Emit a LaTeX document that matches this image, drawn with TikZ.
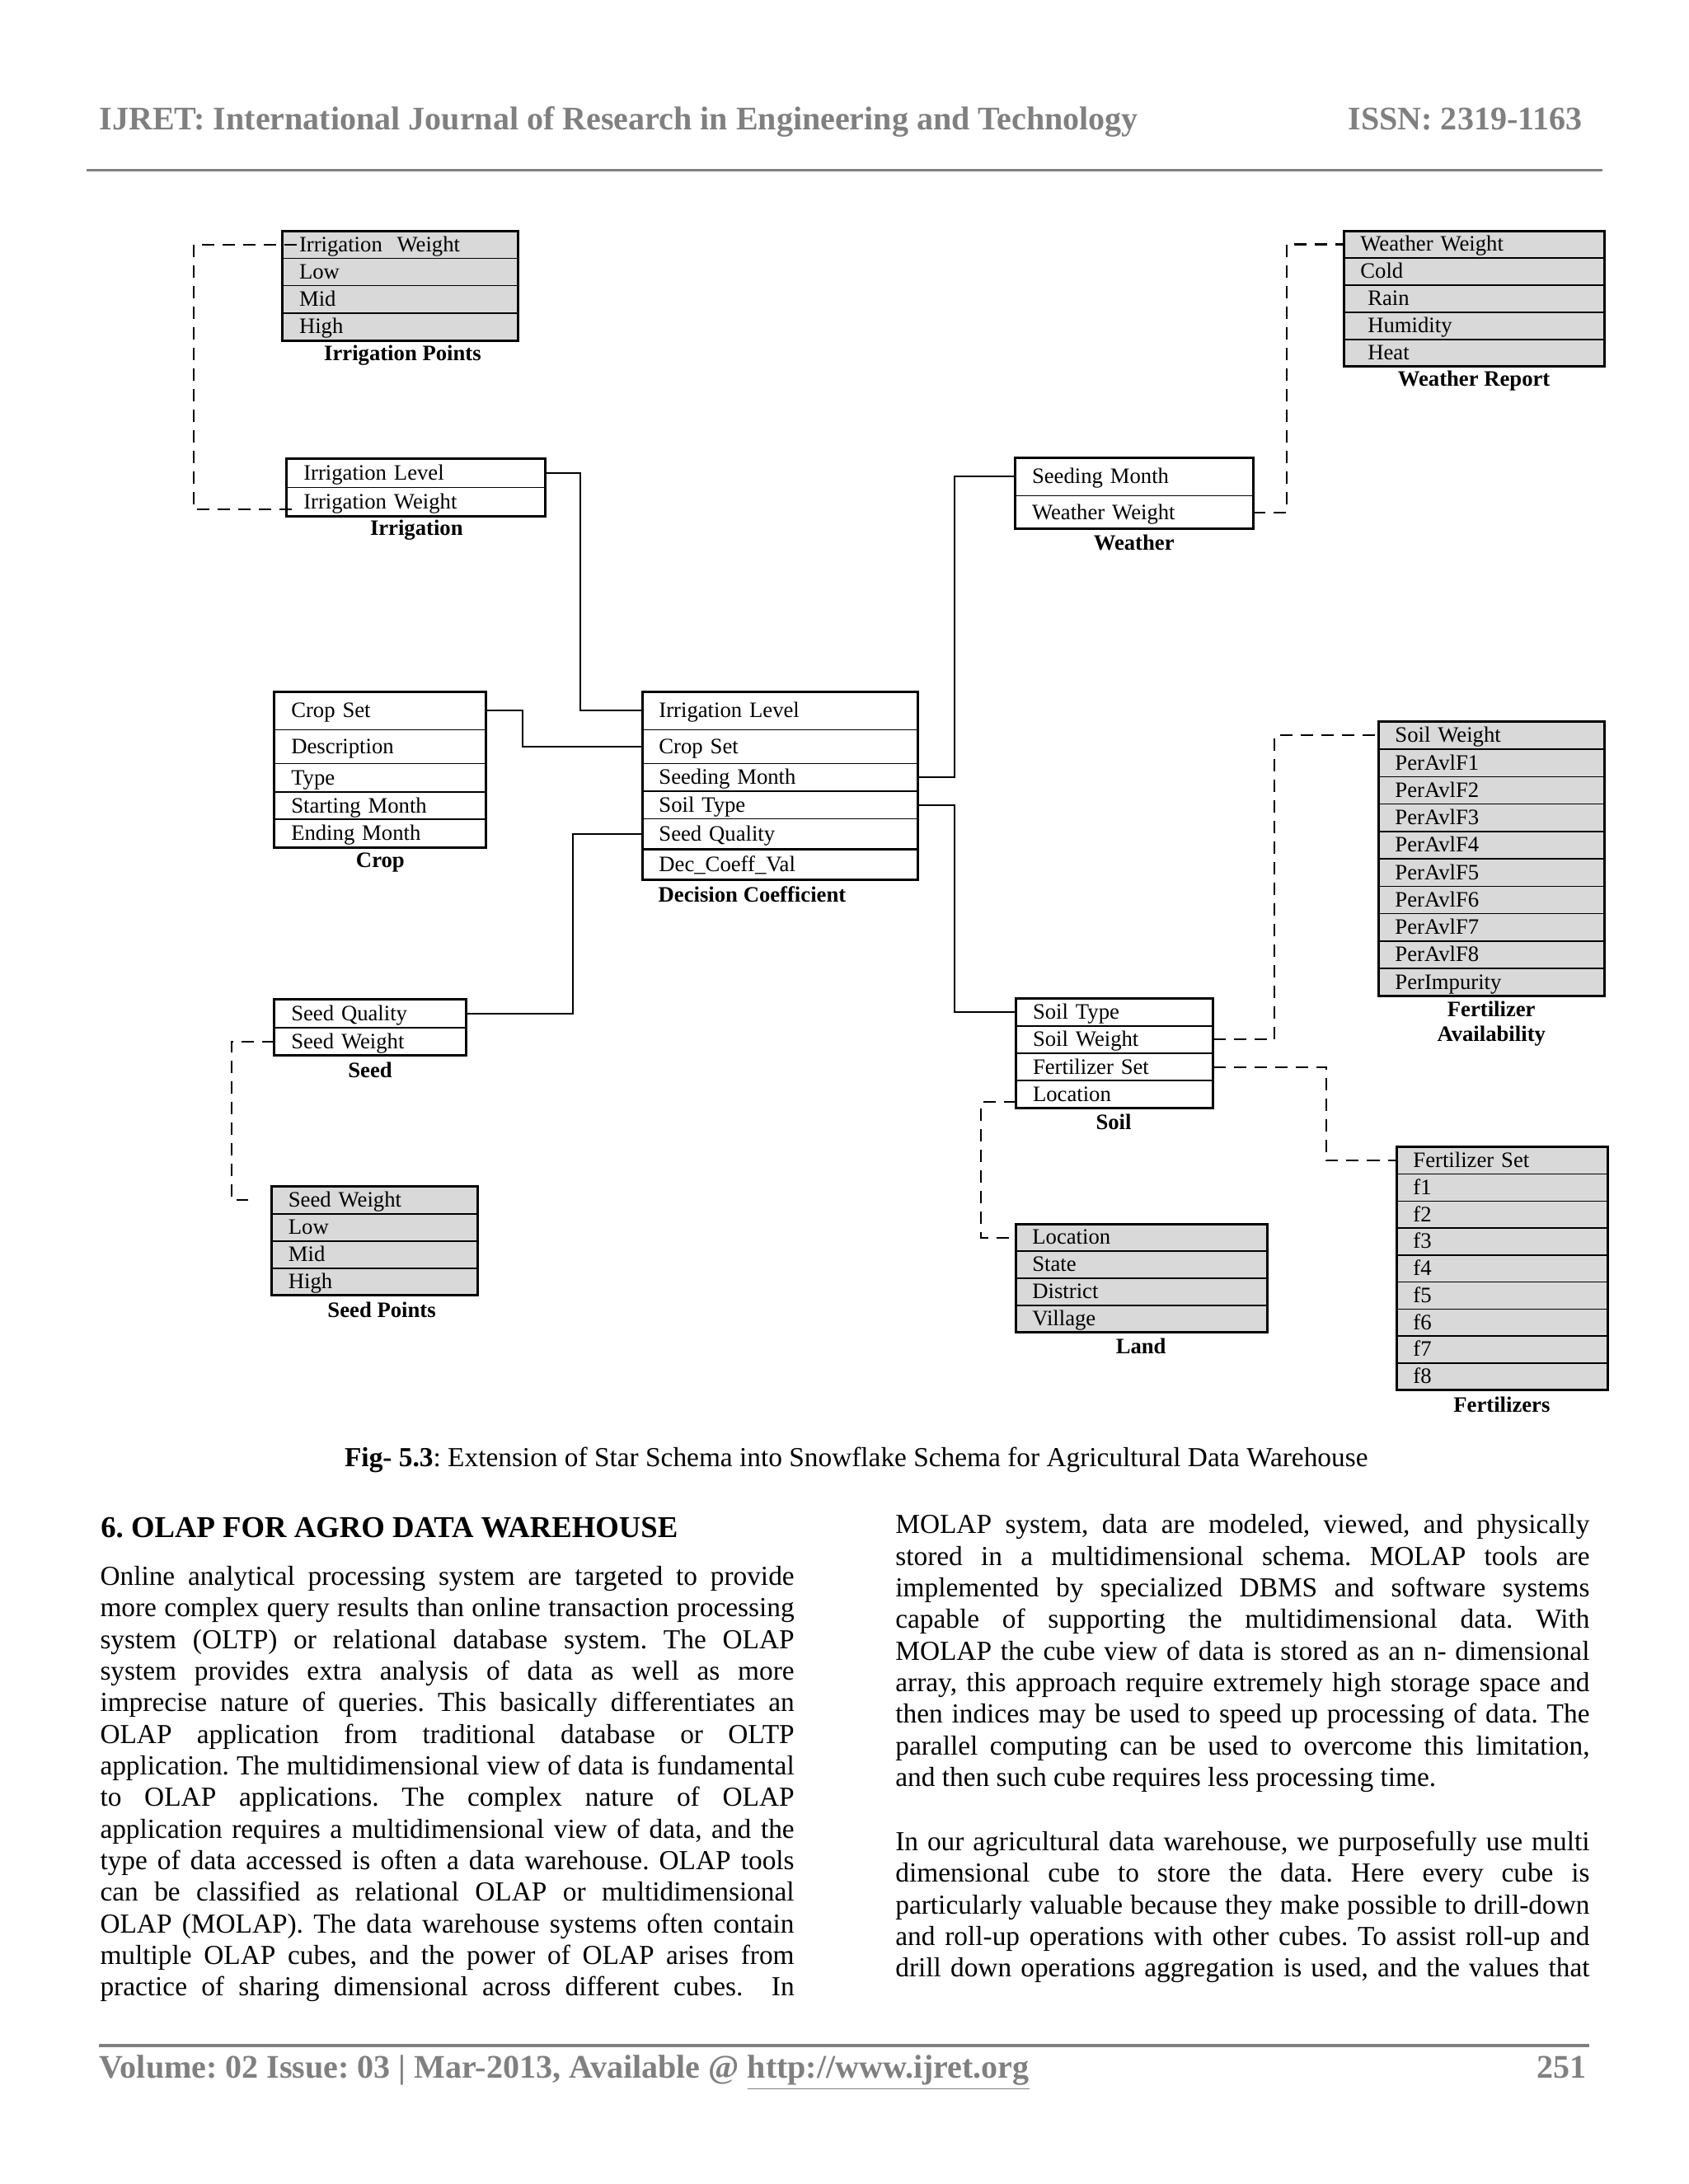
\documentclass[tikz,border=0pt]{standalone}
\usepackage{fontspec}
\setmainfont{Liberation Serif}
\usetikzlibrary{positioning}
\definecolor{cellgray}{RGB}{217,217,217}
\definecolor{headgray}{RGB}{128,128,128}
\frenchspacing
\tikzset{
  cell/.style={draw, line width=0.45pt, inner xsep=0.214cm, inner ysep=0pt, outer sep=0pt,
    text width=#1, anchor=north west, font=\fontsize{8}{9}\selectfont,
    text height=1.5ex, text depth=0.4ex},
  gcell/.style={cell=#1, fill=cellgray},
  frame/.style={line width=0.9pt},
  tlabel/.style={font=\bfseries\fontsize{8}{9}\selectfont, inner sep=0pt},
  link/.style={line width=0.55pt},
  weight link/.style={line width=0.6pt, dash pattern=on 4.5pt off 3pt},
  body/.style={font=\fontsize{10}{11.5}\selectfont, text width=8.873cm, inner sep=0pt,
    anchor=base west, align=justify},
  pagehead/.style={font=\bfseries\fontsize{12}{14}\selectfont, text=headgray, inner sep=0pt},
  rule/.style={headgray, line width=1pt}
}
\begin{document}
\begin{tikzpicture}[x=0.017813cm, y=-0.017813cm]
\useasboundingbox (0,0) rectangle (1212,1568);
% page head
\node[pagehead, anchor=base west] (journal) at (71,93) {IJRET: International Journal of Research in Engineering and Technology};
\node[pagehead, anchor=base east] (issn) at (1136,93) {ISSN: 2319-1163};
\draw[rule] (62,122) -- (1150,122);
% irrigation points
\foreach \t [count=\i] in {Irrigation\ \ Weight, Low, Mid, High}
  \node[gcell=2.579cm, minimum height=0.351cm] (ip\i) at (202.8,{165.7+19.7*(\i-1)}) {\t};
\draw[frame] (ip1.north west) rectangle (ip4.south east);
\node[tlabel] (iplabel) at (289,255) {Irrigation Points};
% irrigation
\foreach \t [count=\i] in {Irrigation Level, Irrigation Weight}
  \node[cell=2.871cm, minimum height=0.369cm] (irr\i) at (205.9,{329.4+20.7*(\i-1)}) {\t};
\draw[frame] (irr1.north west) rectangle (irr2.south east);
\node[tlabel] (irrlabel) at (299,380.5) {Irrigation};
% weather report
\foreach \t [count=\i] in {Weather Weight, Cold, \ Rain, \ Humidity, \ Heat}
  \node[gcell=2.905cm, minimum height=0.347cm] (wr\i) at (964.5,{165.7+19.5*(\i-1)}) {\t};
\draw[frame] (wr1.north west) rectangle (wr5.south east);
\node[tlabel] (wrlabel) at (1058,273.2) {Weather Report};
% weather
\node[cell=2.611cm, minimum height=0.492cm] (wea1) at (728.8,328.4) {Seeding Month};
\node[cell=2.611cm, minimum height=0.422cm, below=0pt of wea1] (wea2) {Weather Weight};
\draw[frame] (wea1.north west) rectangle (wea2.south east);
\node[tlabel] (wealabel) at (814,389.4) {Weather};
% crop
\node[cell=2.278cm, minimum height=0.488cm] (crop1) at (197,496.5) {Crop Set};
\node[cell=2.278cm, minimum height=0.435cm, below=0pt of crop1] (crop2) {Description};
\node[cell=2.278cm, minimum height=0.363cm, below=0pt of crop2] (crop3) {Type};
\node[cell=2.278cm, minimum height=0.347cm, below=0pt of crop3] (crop4) {Starting Month};
\node[cell=2.278cm, minimum height=0.358cm, below=0pt of crop4] (crop5) {Ending Month};
\draw[frame] (crop1.north west) rectangle (crop5.south east);
\node[tlabel] (croplabel) at (273,619.3) {Crop};
% decision coefficient
\node[cell=3.099cm, minimum height=0.488cm] (dc1) at (461,496.5) {Irrigation Level};
\node[cell=3.099cm, minimum height=0.435cm, below=0pt of dc1] (dc2) {Crop Set};
\node[cell=3.099cm, minimum height=0.351cm, below=0pt of dc2] (dc3) {Seeding Month};
\node[cell=3.099cm, minimum height=0.353cm, below=0pt of dc3] (dc4) {Soil Type};
\node[cell=3.099cm, minimum height=0.387cm, below=0pt of dc4] (dc5) {Seed Quality};
\node[cell=3.099cm, minimum height=0.392cm, below=0pt of dc5] (dc6) {Dec\_Coeff\_Val};
\draw[frame] (dc1.north west) rectangle (dc6.south east);
\draw[frame] (dc6.north west) -- (dc6.north east);
\node[tlabel, anchor=west] (dclabel) at (472.2,642.4) {Decision Coefficient};
% seed
\foreach \t [count=\i] in {Seed Quality, Seed Weight}
  \node[cell=2.018cm, minimum height=0.358cm] (seed\i) at (197,{717.6+20.1*(\i-1)}) {\t};
\draw[frame] (seed1.north west) rectangle (seed2.south east);
\node[tlabel] (seedlabel) at (265.7,768) {Seed};
% seed points
\foreach \t [count=\i] in {Seed Weight, Low, Mid, High}
  \node[gcell=2.201cm, minimum height=0.347cm] (sp\i) at (195,{852+19.5*(\i-1)}) {\t};
\draw[frame] (sp1.north west) rectangle (sp4.south east);
\node[tlabel] (splabel) at (274,940.4) {Seed Points};
% fertilizer availability
\foreach \t [count=\i] in {Soil Weight, PerAvlF1, PerAvlF2, PerAvlF3, PerAvlF4, PerAvlF5, PerAvlF6, PerAvlF7, PerAvlF8, PerImpurity}
  \node[gcell=2.458cm, minimum height=0.351cm] (fa\i) at (989.4,{518.2+19.68*(\i-1)}) {\t};
\draw[frame] (fa1.north west) rectangle (fa10.south east);
\node[tlabel, align=center] (falabel) at (1070.5,734.7) {Fertilizer\\Availability};
% soil
\foreach \t [count=\i] in {Soil Type, Soil Weight, Fertilizer Set, Location}
  \node[cell=2.091cm, minimum height=0.349cm] (soil\i) at (729.4,{717+19.6*(\i-1)}) {\t};
\draw[frame] (soil1.north west) rectangle (soil4.south east);
\node[tlabel] (soillabel) at (799.4,805.7) {Soil};
% land
\foreach \t [count=\i] in {Location, State, District, Village}
  \node[gcell=2.787cm, minimum height=0.347cm] (land\i) at (729,{878.7+19.5*(\i-1)}) {\t};
\draw[frame] (land1.north west) rectangle (land4.south east);
\node[tlabel] (landlabel) at (819,966.5) {Land};
% fertilizers
\foreach \t [count=\i] in {Fertilizer Set, f1, f2, f3, f4, f5, f6, f7, f8}
  \node[gcell=2.272cm, minimum height=0.345cm] (fert\i) at (1002.4,{823.5+19.39*(\i-1)}) {\t};
\draw[frame] (fert1.north west) rectangle (fert9.south east);
\node[tlabel] (fertlabel) at (1078,1008.3) {Fertilizers};
% links to the fact table
\draw[link] (irr1.east) -- ++(25.5,0) |- (dc1.west);
\draw[link] (crop1.east) -- ++(26,0) |- (dc2.west);
\draw[link] (dc3.east) -- ++(26,0) |- (wea1.west);
\draw[link] (dc4.east) -- ++(26,0) |- (soil1.west);
\draw[link] (dc5.west) -- ++(-50,0) |- (seed1.east);
% snowflake links
\draw[weight link] ([xshift=0.18cm]ip1.west) -- ++(-74,0) |- ([xshift=0.16cm,yshift=-0.09cm]irr2.west);
\draw[weight link] (wea2.east) -- ++(24,0) |- (wr1.west);
\draw[weight link] (seed2.west) -- ++(-30.5,0) |- ([xshift=-0.3cm]sp1.west);
\draw[weight link] (soil2.east) -- ++(44,0) |- (fa1.west);
\draw[weight link] (soil3.east) -- ++(81,0) |- (fert1.west);
\draw[weight link] ([yshift=-0.1cm]soil4.west) -- ++(-25,0) |- (land1.west);
% caption and text
\node[anchor=base west, inner sep=0pt, font=\fontsize{10}{12}\selectfont] (caption) at (247,1053)
  {\textbf{Fig- 5.3}: Extension of Star Schema into Snowflake Schema for Agricultural Data Warehouse};
\node[anchor=base west, inner sep=0pt, font=\bfseries\fontsize{11}{13}\selectfont] (section) at (72,1104)
  {6. OLAP FOR AGRO DATA WAREHOUSE};
\node[body] (leftcol) at (71.5,1138) {\parfillskip=0pt
Online analytical processing system are targeted to provide\linebreak
more complex query results than online transaction processing\linebreak
system (OLTP) or relational database system. The OLAP\linebreak
system provides extra analysis of data as well as more\linebreak
imprecise nature of queries. This basically differentiates an\linebreak
OLAP application from traditional database or OLTP\linebreak
application. The multidimensional view of data is fundamental\linebreak
to OLAP applications. The complex nature of OLAP\linebreak
application requires a multidimensional view of data, and the\linebreak
type of data accessed is often a data warehouse. OLAP tools\linebreak
can be classified as relational OLAP or multidimensional\linebreak
OLAP (MOLAP). The data warehouse systems often contain\linebreak
multiple OLAP cubes, and the power of OLAP arises from\linebreak
practice of sharing dimensional across different cubes.\ \ In\par};
\node[body] (rightcol) at (642.4,1101) {
MOLAP system, data are modeled, viewed, and physically\linebreak
stored in a multidimensional schema. MOLAP tools are\linebreak
implemented by specialized DBMS and software systems\linebreak
capable of supporting the multidimensional data. With\linebreak
MOLAP the cube view of data is stored as an n- dimensional\linebreak
array, this approach require extremely high storage space and\linebreak
then indices may be used to speed up processing of data. The\linebreak
parallel computing can be used to overcome this limitation,\linebreak
and then such cube requires less processing time.};
\node[body] (rightpar) at (642.4,1328.6) {\parfillskip=0pt
In our agricultural data warehouse, we purposefully use multi\linebreak
dimensional cube to store the data. Here every cube is\linebreak
particularly valuable because they make possible to drill-down\linebreak
and roll-up operations with other cubes. To assist roll-up and\linebreak
drill down operations aggregation is used, and the values that\par};
% page foot
\draw[rule] (71,1468.6) -- (1140.8,1468.6);
\node[pagehead, anchor=base west] (volume) at (71,1491.7)
  {Volume: 02 Issue: 03 | Mar-2013, Available @ \underline{http://www.ijret.org}};
\node[pagehead, anchor=base east] (pageno) at (1139,1491.7) {251};
\end{tikzpicture}
\end{document}
